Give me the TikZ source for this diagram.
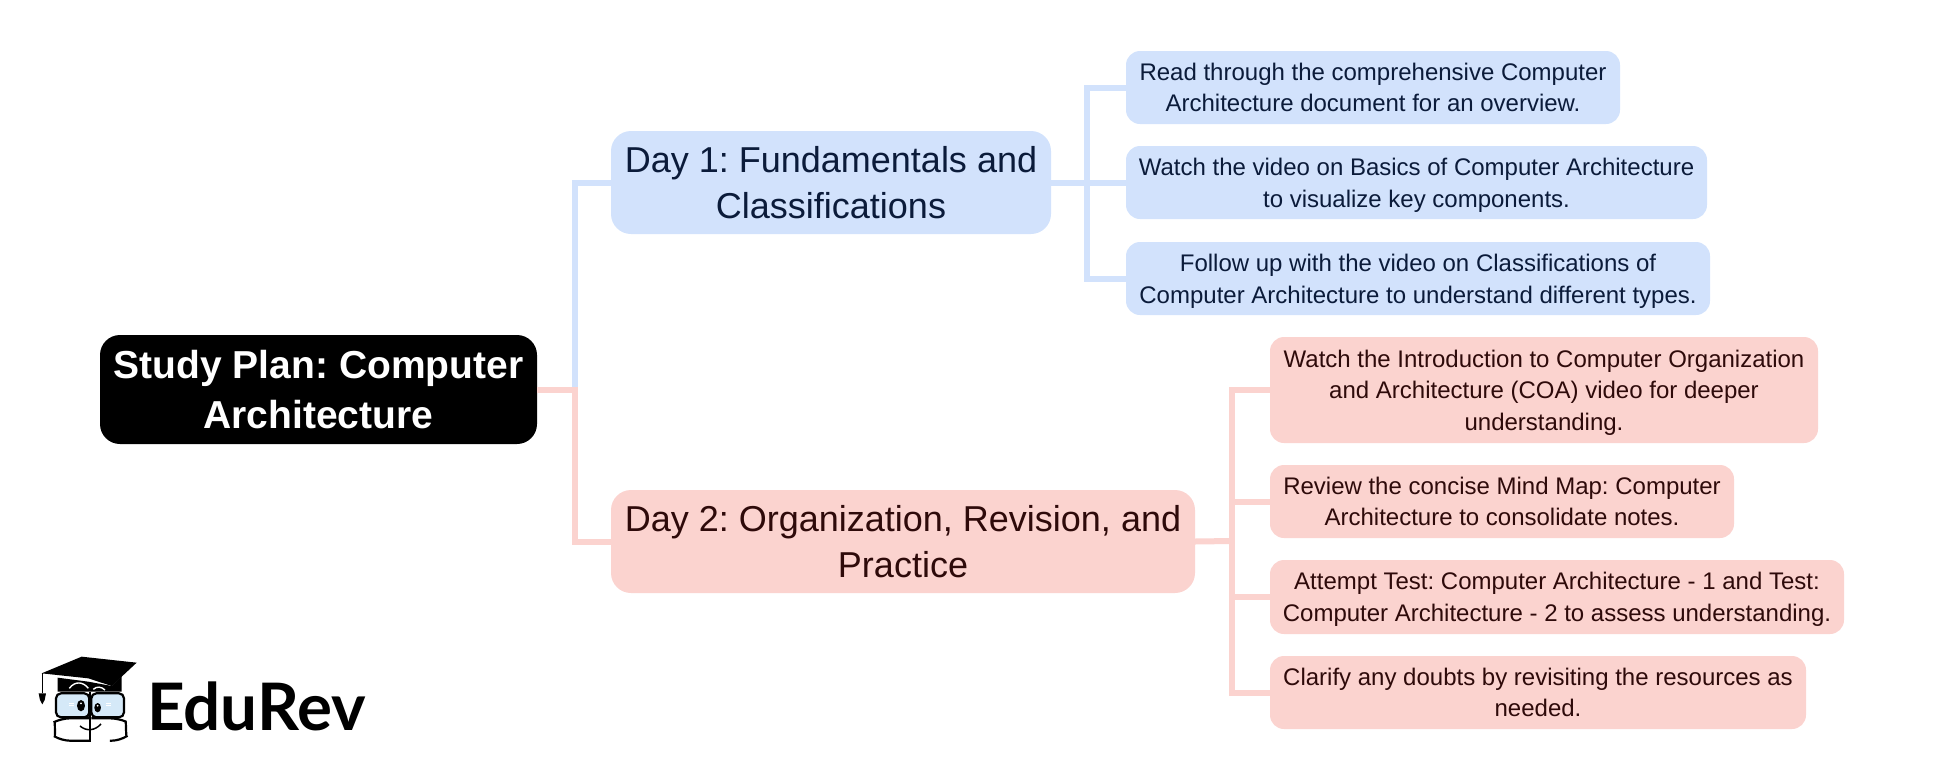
\documentclass[tikz,border=0pt]{standalone}
\usepackage{fontspec}
\setmainfont{Liberation Sans}
\newfontfamily\logofont{Lato}
\definecolor{bluefill}{HTML}{D2E2FC}
\definecolor{pinkfill}{HTML}{FBD3CF}
\definecolor{bluetext}{HTML}{0B1B3A}
\definecolor{pinktext}{HTML}{2E0A0A}
\definecolor{lens}{HTML}{D5E9F8}
\frenchspacing
\newcommand{\dn}{\rule{0pt}{22.5pt}}
\tikzset{
  x=1pt,y=-1pt,
  box/.style={rounded corners=#1,inner sep=0pt,outer sep=0pt,align=center,anchor=north west},
  rootbox/.style={box=20pt,fill=black,text=white,font=\fontsize{39}{50}\selectfont\bfseries},
  dayblue/.style={box=20pt,fill=bluefill,text=bluetext,font=\fontsize{36}{46.5}\selectfont},
  daypink/.style={box=20pt,fill=pinkfill,text=pinktext,font=\fontsize{36}{46.5}\selectfont},
  leafblue/.style={box=14pt,fill=bluefill,text=bluetext,font=\fontsize{24}{31.6}\selectfont},
  leafpink/.style={box=14pt,fill=pinkfill,text=pinktext,font=\fontsize{24}{31.6}\selectfont},
  linkblue/.style={draw=bluefill,line width=6pt},
  linkpink/.style={draw=pinkfill,line width=6pt},
}
\newcommand{\boxnode}[7]{\node[#1,minimum width=#5pt-#3pt,minimum height=#6pt-#4pt] (#2) at (#3,#4) {#7};}
\begin{document}
\begin{tikzpicture}
\useasboundingbox (0,0) rectangle (1944,780);
\coordinate (busA) at (575,390);
\coordinate (busB) at (1087,183);
\coordinate (busC) at (1232,541);
\boxnode{rootbox}{root}{100}{335}{537}{444}{Study Plan: Computer\\Architecture}
\boxnode{dayblue}{d1}{611}{131}{1051}{234}{Day 1: Fundamentals and\\Classifications}
\boxnode{daypink}{d2}{611}{490}{1195}{593}{Day 2: Organization, Revision, and\\Practice}
\boxnode{leafblue}{a1}{1126}{51}{1620}{124}{Read through the comprehensive Computer\\Architecture document for an overview.}
\boxnode{leafblue}{a2}{1126}{146}{1707}{219}{\dn Watch the video on Basics of Computer Architecture\\to visualize key components.}
\boxnode{leafblue}{a3}{1126}{242}{1710}{315}{\dn Follow up with the video on Classifications of\\Computer Architecture to understand different types.}
\boxnode{leafpink}{b1}{1270}{337}{1818}{443}{\dn Watch the Introduction to Computer Organization\\and Architecture (COA) video for deeper\\understanding.}
\boxnode{leafpink}{b2}{1270}{465}{1734}{538}{Review the concise Mind Map: Computer\\Architecture to consolidate notes.}
\boxnode{leafpink}{b3}{1270}{560}{1844}{634}{\dn Attempt Test: Computer Architecture - 1 and Test:\\Computer Architecture - 2 to assess understanding.}
\boxnode{leafpink}{b4}{1270}{656}{1806}{729}{Clarify any doubts by revisiting the resources as\\needed.}
\draw[linkblue] (busA|-root.east) |- (d1.west);
\draw[linkblue] (d1.east) -- (a2.west);
\draw[linkblue] (a1.west) -| (busB) |- (a3.west);
\draw[linkpink] (root.east) -| (busA) |- (d2.west);
\draw[linkpink] (d2.east) -- (busC);
\draw[linkpink] (b1.west) -| (busC) |- (b4.west);
\draw[linkpink] (busC|-b2.west) -- (b2.west);
\draw[linkpink] (busC|-b3.west) -- (b3.west);
\node[font=\logofont\bfseries\fontsize{65.5}{65.5}\selectfont,text=black,anchor=base west,inner sep=0pt] (brand) at (147,730) {EduRev};
\begin{scope}[shift={(20,640)},x=0.3333pt,y=-0.3333pt]
  \fill (65,100) -- (185,50) -- (350,68) -- (275,138) -- (205,115) -- cycle;
  \fill (113,113) -- (205,125) -- (275,138) -- (305,108) -- (305,155) -- (113,155) -- cycle;
  \draw[white,line width=1.4pt] (148,145) .. controls (165,122) and (190,125) .. (205,145);
  \draw[white,line width=1.4pt] (220,148) .. controls (230,138) and (245,140) .. (255,150);
  \draw[line width=1.3pt] (67,100) -- (67,160);
  \fill (56,160) -- (78,160) -- (74,180) -- (67,193) -- (60,180) -- cycle;
  \draw[fill=lens,line width=2.2pt,rounded corners=5pt] (108,160) rectangle (208,232);
  \draw[fill=lens,line width=2.2pt,rounded corners=5pt] (214,160) rectangle (312,232);
  \draw[line width=2.2pt,rounded corners=8pt] (208,235) -- (125,235) .. controls (105,245) and (105,290) .. (125,302) -- (208,302);
  \draw[line width=2.2pt,rounded corners=8pt] (214,235) -- (295,235) .. controls (318,245) and (318,290) .. (300,302) -- (270,302);
  \draw[line width=2.2pt] (211,155) -- (211,305);
  \fill (183,197) ellipse [x radius=12,y radius=17];
  \fill (233,203) ellipse [x radius=10,y radius=14];
  \fill[white] (183,190) circle (3);
  \fill[white] (233,197) circle (3);
  \draw[white,line width=1pt] (148,190) -- (162,190) (148,197) -- (162,197);
  \draw[white,line width=1pt] (258,190) -- (272,190) (258,197) -- (272,197);
  \draw[line width=1.5pt] (180,258) .. controls (200,275) and (225,272) .. (243,252);
\end{scope}
\end{tikzpicture}
\end{document}
